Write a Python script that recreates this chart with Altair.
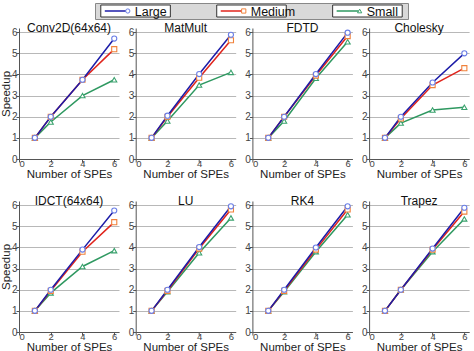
import altair as alt
import pandas as pd

spes = [1, 2, 4, 6]
benchmarks = ["Conv2D(64x64)", "MatMult", "FDTD", "Cholesky",
              "IDCT(64x64)", "LU", "RK4", "Trapez"]
series = ["Large", "Medium", "Small"]

large = {
    "Conv2D(64x64)": [1.0, 2.0, 3.75, 5.70],
    "MatMult": [1.0, 2.05, 4.02, 5.88],
    "FDTD": [1.0, 2.0, 4.02, 5.98],
    "Cholesky": [1.0, 2.0, 3.62, 5.0],
    "IDCT(64x64)": [1.0, 2.0, 3.9, 5.75],
    "LU": [1.0, 2.0, 4.02, 5.95],
    "RK4": [1.0, 2.0, 4.0, 5.95],
    "Trapez": [1.0, 2.0, 3.95, 5.88],
}
medium = {
    "Conv2D(64x64)": [1.0, 2.0, 3.75, 5.2],
    "MatMult": [1.0, 2.0, 3.85, 5.62],
    "FDTD": [1.0, 2.0, 3.95, 5.82],
    "Cholesky": [1.0, 1.92, 3.5, 4.3],
    "IDCT(64x64)": [1.0, 1.95, 3.8, 5.2],
    "LU": [1.0, 1.95, 3.95, 5.8],
    "RK4": [1.0, 1.95, 3.9, 5.8],
    "Trapez": [1.0, 2.0, 3.9, 5.7],
}
small = {
    "Conv2D(64x64)": [1.0, 1.75, 3.0, 3.75],
    "MatMult": [1.0, 1.8, 3.5, 4.1],
    "FDTD": [1.0, 1.8, 3.82, 5.55],
    "Cholesky": [1.0, 1.7, 2.32, 2.45],
    "IDCT(64x64)": [1.0, 1.85, 3.1, 3.85],
    "LU": [1.0, 1.9, 3.75, 5.4],
    "RK4": [1.0, 1.9, 3.8, 5.55],
    "Trapez": [1.0, 2.0, 3.8, 5.35],
}

line_colors = ["#1c1ca8", "#e0241c", "#2e9860"]
marker_colors = ["#6a7ee6", "#f0823c", "#3aa26e"]
shapes = ["circle", "square", "triangle-up"]

rows = []
for name, vals in [("Small", small), ("Medium", medium), ("Large", large)]:
    for b in benchmarks:
        for s, v in zip(spes, vals[b]):
            rows.append({"bench": b, "series": name, "spes": s, "speedup": v})
df = pd.DataFrame(rows)

FONT = "Liberation Sans"
line_scale = alt.Scale(domain=series, range=line_colors)
marker_scale = alt.Scale(domain=series, range=marker_colors)
shape_scale = alt.Scale(domain=series, range=shapes)


def panel(name, first):
    d = df[df.bench == name]
    x = alt.X("spes:Q", scale=alt.Scale(domain=[0, 6.3], nice=False),
              axis=alt.Axis(values=[0, 2, 4, 6], title="Number of SPEs", grid=False,
                            tickSize=3, labelPadding=-3.5, titlePadding=0,
                            labelFontSize=9.5, titleFontSize=11.5, labelFont=FONT,
                            titleFont=FONT, titleFontWeight="normal",
                            labelColor="#444", titleColor="#222",
                            domainColor="#555", tickColor="#555"))
    yaxis = dict(values=[0, 1, 2, 3, 4, 5, 6], grid=True, gridColor="#b8b8b8",
                 tickSize=3, labelPadding=-1, labelFontSize=10, labelFont=FONT,
                 labelColor="#444", domainColor="#555", tickColor="#555")
    if first:
        yaxis.update(title="Speedup", titleFontSize=11.5, titleFont=FONT,
                     titleFontWeight="normal", titleColor="#222", titlePadding=0)
    else:
        yaxis.update(title="")
    y = alt.Y("speedup:Q", scale=alt.Scale(domain=[0, 6.2], nice=False),
              axis=alt.Axis(**yaxis))
    line = alt.Chart(d).mark_line(strokeWidth=1.5).encode(
        x=x, y=y, color=alt.Color("series:N", scale=line_scale, legend=None))
    pts = alt.Chart(d).mark_point(fill="white", filled=False, opacity=1,
                                  fillOpacity=1, size=26, strokeWidth=1.1).encode(
        x=x, y=y,
        stroke=alt.Stroke("series:N", scale=marker_scale, legend=None),
        shape=alt.Shape("series:N", scale=shape_scale, legend=None))
    ttl = alt.Chart(pd.DataFrame({"t": [name]})).mark_text(
        baseline="alphabetic", align="center", fontSize=12, font=FONT,
        color="#111").encode(text="t:N", x=alt.value(50), y=alt.value(4))
    return alt.layer(line, pts, ttl).properties(width=100, height=131)


# legend
leg_df = pd.DataFrame({"series": series})
band = alt.Scale(domain=series, paddingInner=0.4, paddingOuter=0.05)
xb = alt.X("series:N", sort=series, scale=band, axis=None)
xb0 = alt.X("series:N", sort=series, scale=band, axis=None, bandPosition=0)
x20 = alt.X2("series:N", bandPosition=0)
box = alt.Chart(leg_df).mark_rect(fill="white", stroke="#333", strokeWidth=1).encode(
    x=xb, y=alt.value(2), y2=alt.value(14))
sample = alt.Chart(leg_df).mark_rule(strokeWidth=1.5, xOffset=4, x2Offset=26).encode(
    x=xb0, x2=x20, y=alt.value(8),
    color=alt.Color("series:N", scale=line_scale, legend=None))
mk = alt.Chart(leg_df).mark_point(fill="white", filled=False, size=18, strokeWidth=1,
                                  xOffset=27, opacity=1, fillOpacity=1).encode(
    x=xb0, y=alt.value(8),
    stroke=alt.Stroke("series:N", scale=marker_scale, legend=None),
    shape=alt.Shape("series:N", scale=shape_scale, legend=None))
txt = alt.Chart(leg_df).mark_text(align="left", baseline="middle", dx=34,
                                  fontSize=12.5, font=FONT, color="#111").encode(
    x=xb0, y=alt.value(8.5), text="series:N")
legend = alt.layer(box, sample, mk, txt).properties(
    width=313, height=16,
    view=alt.ViewBackground(fill="#d9d9d9", stroke="#888", strokeWidth=1))
spacer = alt.Chart(leg_df).mark_point(opacity=0).encode(
    x=alt.value(0), y=alt.value(0)).properties(width=75, height=16)
top = alt.hconcat(spacer, legend, spacing=0)

panels = [panel(b, i % 4 == 0) for i, b in enumerate(benchmarks)]
body = alt.concat(*panels, columns=4, spacing={"row": 42, "column": 16.7},
                  bounds="flush")

chart = alt.vconcat(top, body, spacing=2).properties(
    padding={"left": 0, "top": 0, "right": 0, "bottom": 0}
).configure_view(strokeWidth=0)

chart.save("out.html", embed_options={"renderer": "svg", "actions": False})
